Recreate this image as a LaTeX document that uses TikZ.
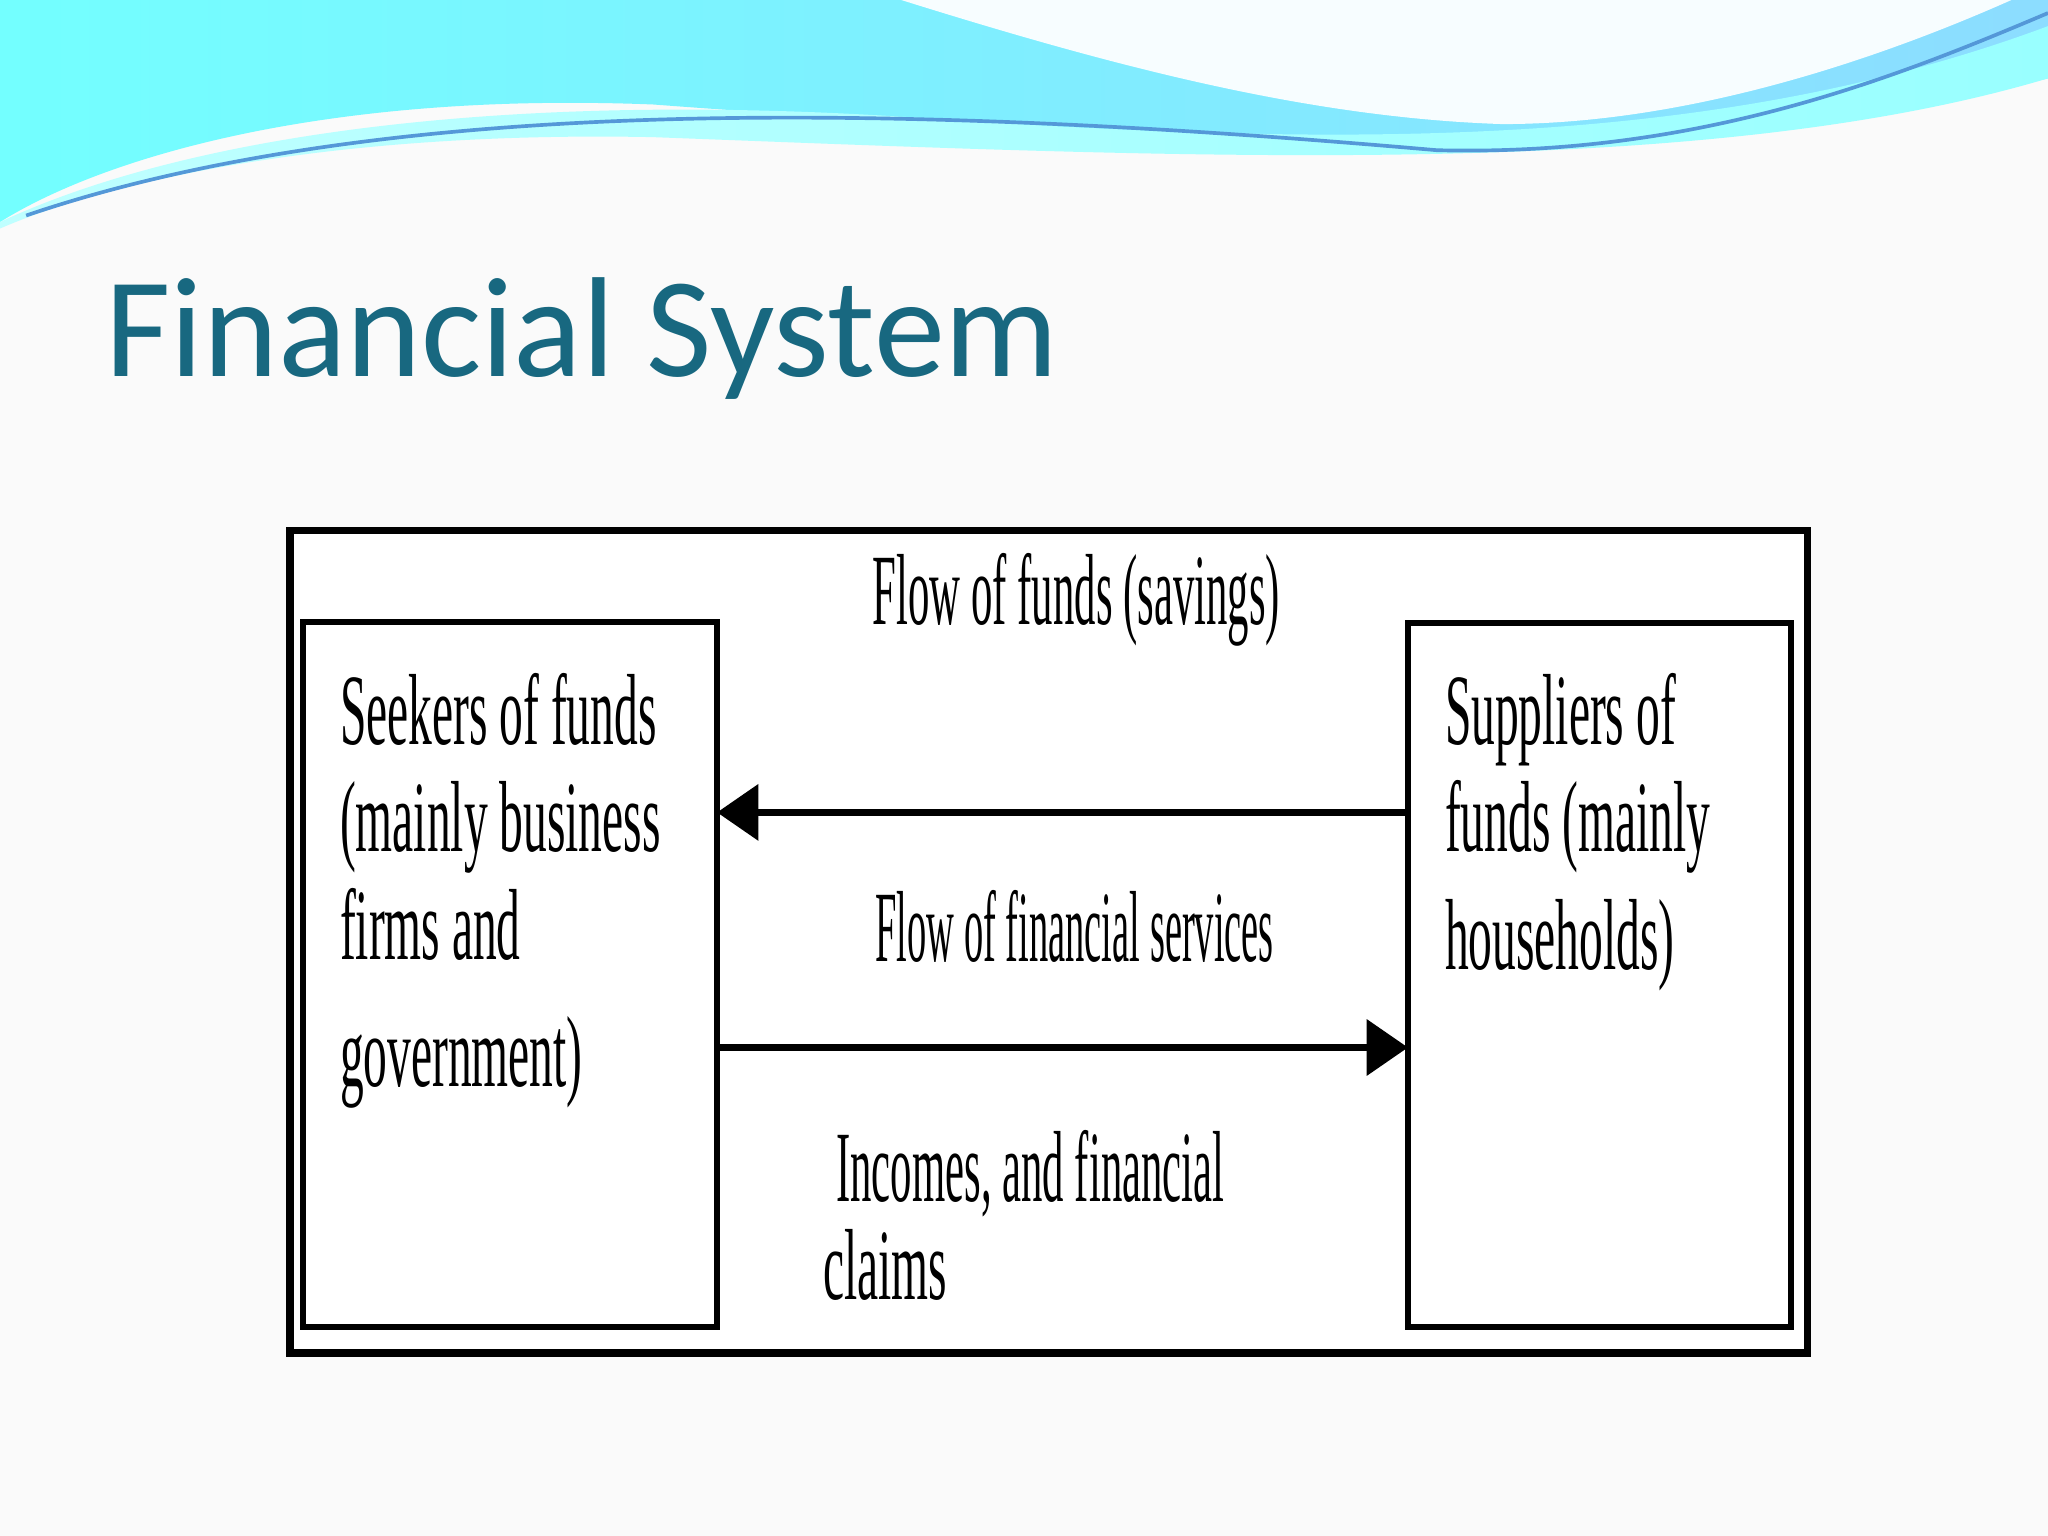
\documentclass[tikz,border=0pt]{standalone}
\usepackage{fontspec}
\setmainfont{Liberation Serif}
\newfontfamily\titlefont{Carlito}
\usetikzlibrary{arrows.meta}
\definecolor{titlecol}{RGB}{24,104,128}
\begin{document}
\begin{tikzpicture}[x=0.01cm,y=-0.01cm,
  lbl/.style={anchor=base west,inner sep=0,font=\fontsize{22}{24}\selectfont,xscale=0.47,transform shape},
  mid/.style={lbl,xscale=0.9},
  box/.style={draw=black,line width=1.3pt},
  flow/.style={line width=1.5pt,-{Triangle[length=9pt,width=12pt]}}]
\fill[white!96!gray] (0,0) rectangle (1568,1176);
\useasboundingbox (0,0) rectangle (1568,1176);
% waves
\shade[left color=cyan!55!white,right color=blue!30!cyan!45!white]
  (0,0) -- (1568,0) -- (1568,60) .. controls (1300,120) and (900,110) .. (500,80) .. controls (250,70) and (80,120) .. (0,170) -- cycle;
\shade[left color=cyan!25!white,right color=cyan!40!white]
  (0,170) .. controls (150,100) and (400,70) .. (700,90) .. controls (1000,110) and (1300,120) .. (1568,20) -- (1568,60) .. controls (1300,140) and (900,120) .. (500,105) .. controls (250,100) and (80,140) .. (0,175) -- cycle;
\fill[white!97!cyan] (690,0) .. controls (850,50) and (1000,90) .. (1150,95) .. controls (1300,95) and (1450,40) .. (1540,0) -- cycle;
\draw[cyan!60!blue!70,line width=0.8pt] (20,165) .. controls (300,70) and (700,80) .. (1100,115) .. controls (1300,120) and (1450,60) .. (1568,10);
\node[anchor=base west,inner sep=0,text=titlecol,font=\titlefont\fontsize{31}{34}\selectfont] (title) at (80,288) {Financial System};
% diagram
\coordinate (o1) at (222,406); \coordinate (o2) at (1384,1036);
\coordinate (s1) at (232,476); \coordinate (s2) at (549,1016);
\coordinate (u1) at (1078,477); \coordinate (u2) at (1371,1016);
\fill[white] (o1) rectangle (o2);
\draw[box,line width=1.6pt] (o1) rectangle (o2);
\draw[box] (s1) rectangle (s2);
\draw[box] (u1) rectangle (u2);
\coordinate (a1) at (1078,622);
\coordinate (a2) at (549,622);
\coordinate (b1) at (549,802);
\coordinate (b2) at (1078,802);
\draw[flow] (a1) -- (a2);
\draw[flow] (b1) -- (b2);
\node[mid] (t1) at (668,478) {Flow of funds (savings)};
\node[lbl,xscale=0.81] (t2) at (670,736) {Flow of financial services};
\node[mid] (t3) at (640,920) {Incomes, and financial};
\node[lbl] (t4) at (630,995) {claims};
\node[lbl] (l1) at (260,570) {Seekers of funds};
\node[lbl] (l2) at (260,652) {(mainly business};
\node[lbl] (l3) at (260,735) {firms and};
\node[lbl] (l4) at (260,832) {government)};
\node[lbl] (r1) at (1106,570) {Suppliers of};
\node[lbl] (r2) at (1106,652) {funds (mainly};
\node[lbl] (r3) at (1106,742) {households)};
\end{tikzpicture}
\end{document}
